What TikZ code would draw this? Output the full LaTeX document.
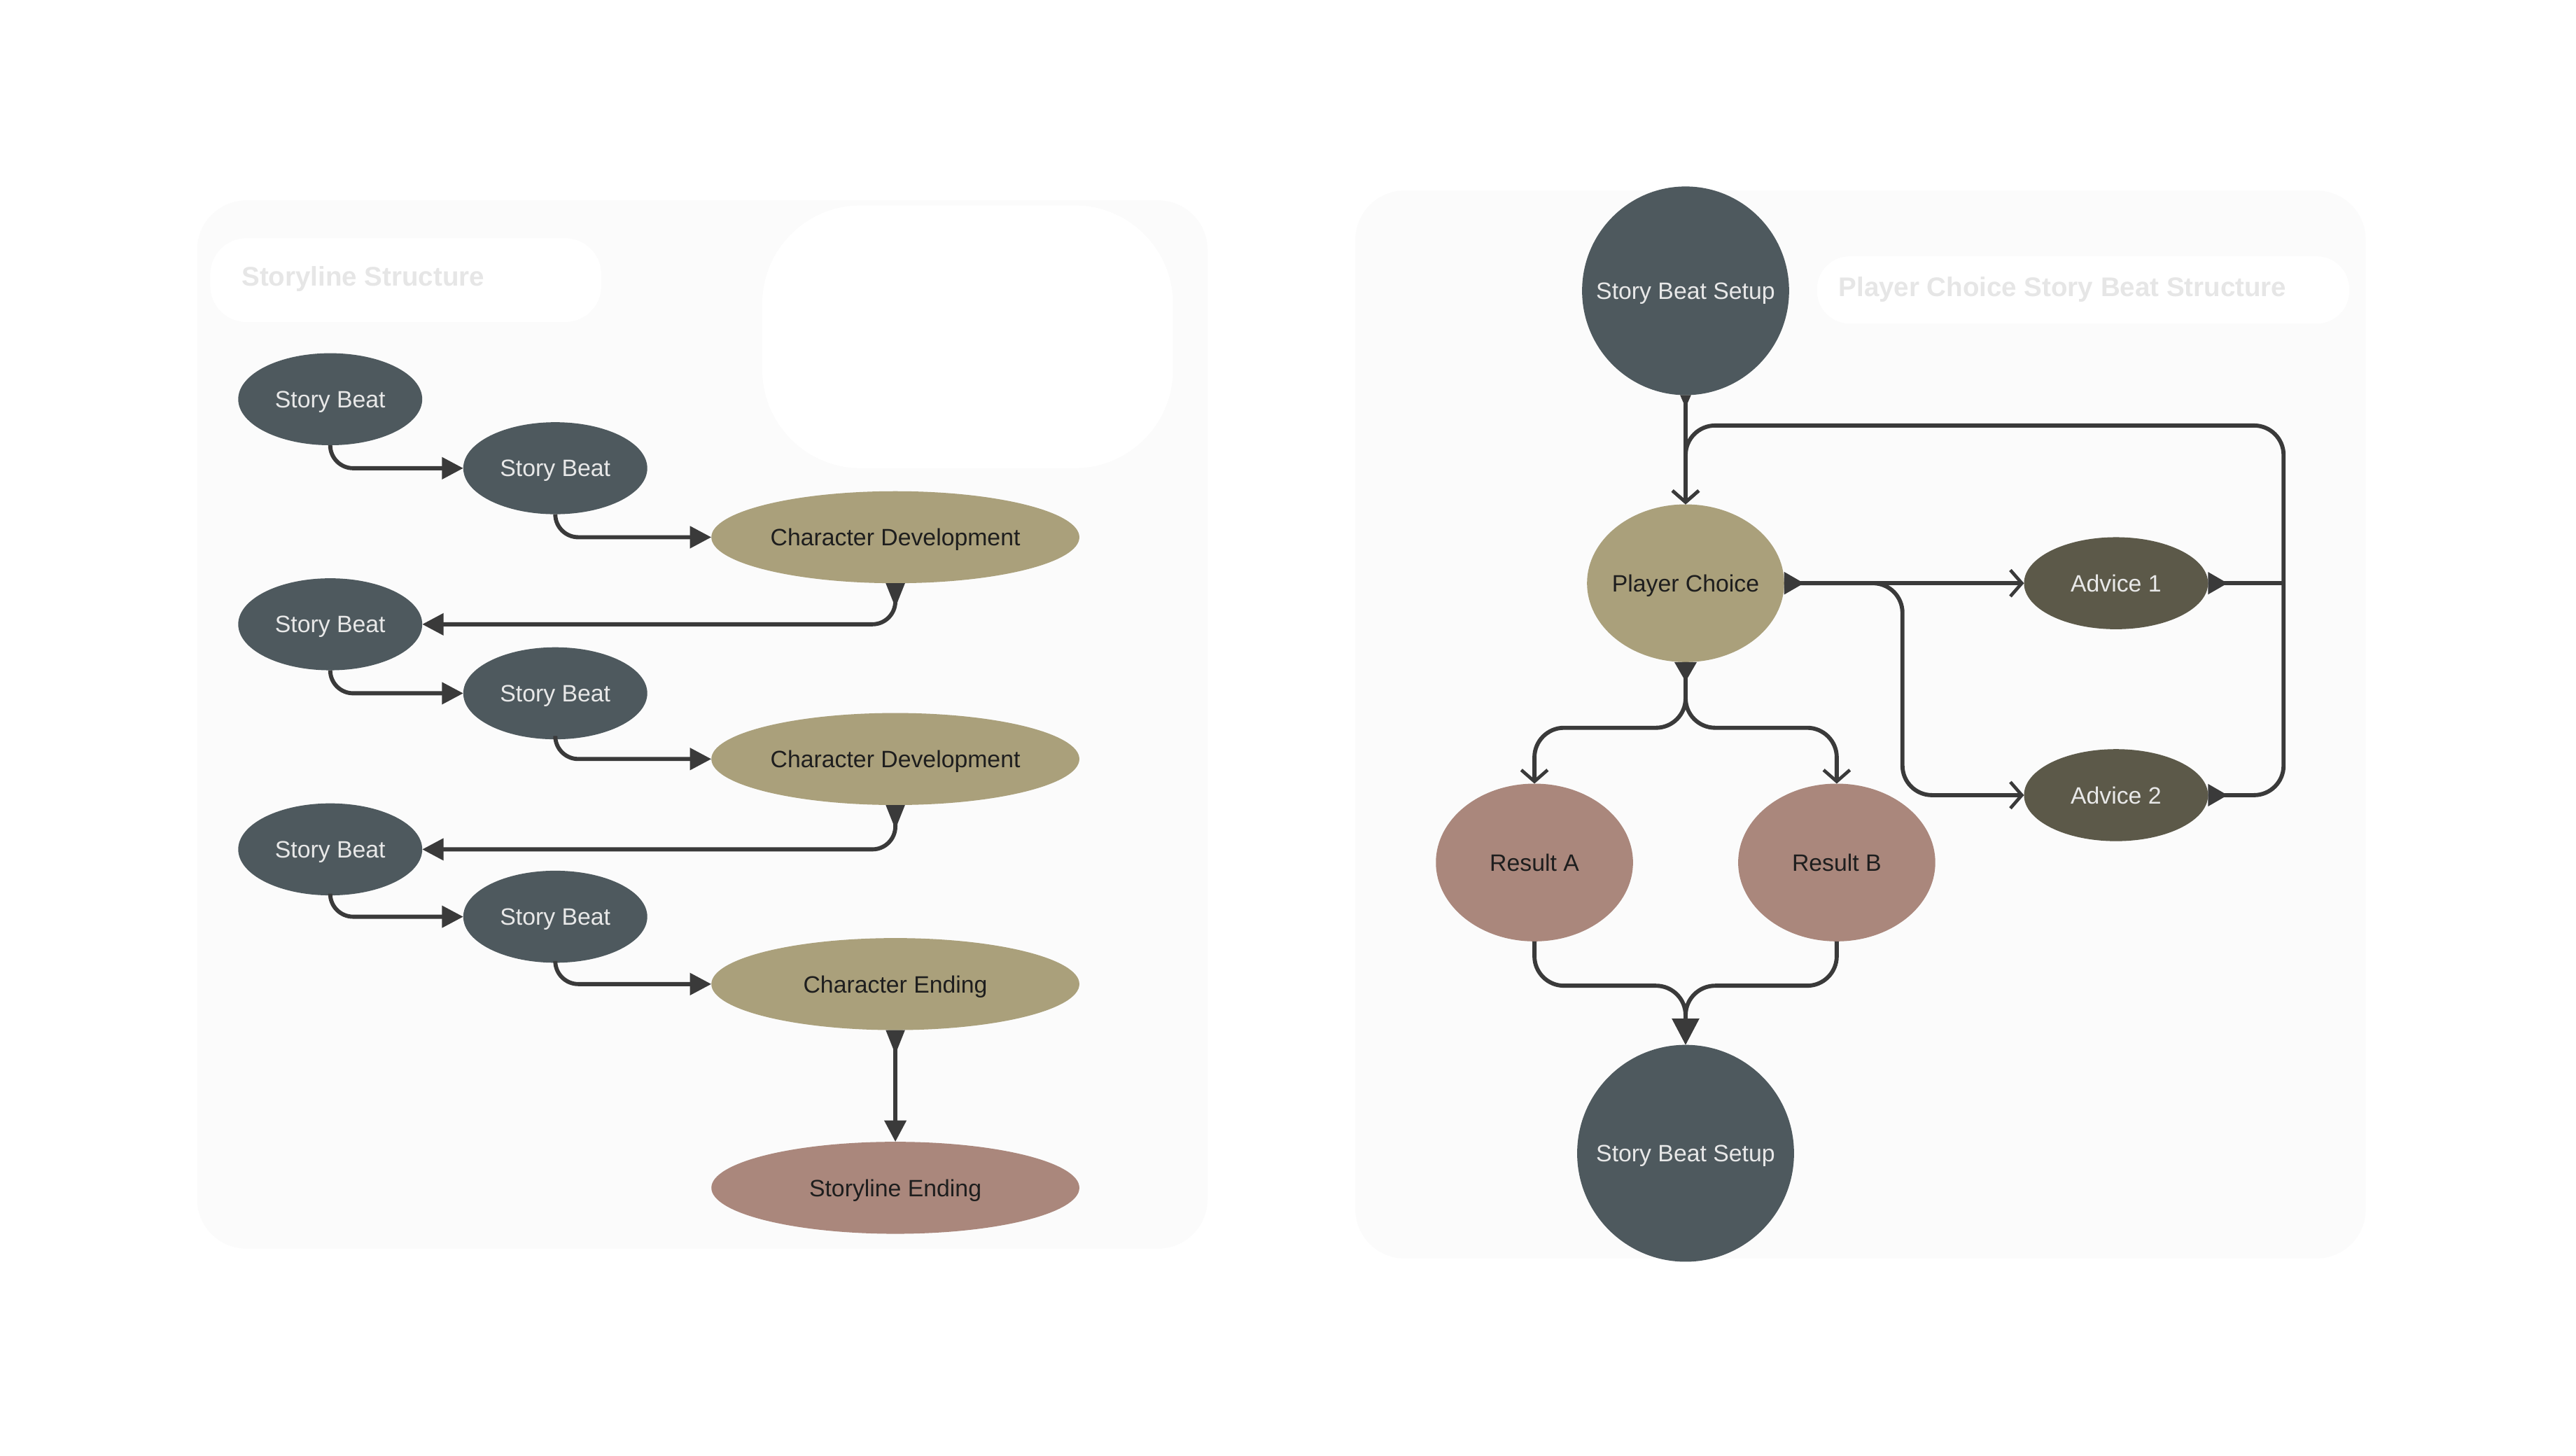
\documentclass[tikz,border=0pt]{standalone}
\usepackage{fontspec}
\setmainfont{Liberation Sans}
\usetikzlibrary{arrows.meta,shapes.geometric}
\definecolor{slate}{HTML}{4E595E}
\definecolor{khaki}{HTML}{AAA07B}
\definecolor{rose}{HTML}{AA877C}
\definecolor{olive}{HTML}{5C5949}
\definecolor{linec}{HTML}{3A3A3A}
\definecolor{panel}{HTML}{FBFBFB}
\definecolor{titlec}{HTML}{E6E6E6}
\definecolor{lighttxt}{HTML}{E8E8E8}
\definecolor{darktxt}{HTML}{1E1E1E}
\newcommand\nodefont{\fontsize{14.4}{17}\selectfont}
\newcommand\titlefont{\fontsize{16.4}{19}\selectfont\bfseries}
\newcommand\nolen[1]{\makebox[0pt][c]{#1}}
\tikzset{
  basenode/.style={ellipse, inner sep=0pt, outer sep=0pt, font=\nodefont, text depth=0pt},
  beatnode/.style={basenode, fill=slate, text=lighttxt, minimum width=112pt, minimum height=56pt},
  devnode/.style={basenode, fill=khaki, text=darktxt, minimum width=224pt, minimum height=56pt},
  endnode/.style={basenode, fill=rose, text=darktxt, minimum width=224pt, minimum height=56pt},
  setupnode/.style={basenode, fill=slate, text=lighttxt, minimum width=126pt, minimum height=127pt},
  choicenode/.style={basenode, fill=khaki, text=darktxt, minimum width=120pt, minimum height=96pt},
  resnode/.style={basenode, fill=rose, text=darktxt, minimum width=120pt, minimum height=96pt},
  advnode/.style={basenode, fill=olive, text=lighttxt, minimum width=112pt, minimum height=56pt},
  conn/.style={draw=linec, line width=2.5pt, rounded corners=14pt},
  fulltip/.style={-{Triangle[length=13pt,width=13pt]}},
  srcfull/.style={{Triangle[reversed,length=15pt,width=11pt]}-{Triangle[length=13pt,width=13pt]}},
  srcopen/.style={{Triangle[reversed,length=12pt,width=13pt]}-{Straight Barb[length=7pt,width=16pt,line width=2pt]}},
  openonly/.style={-{Straight Barb[length=7pt,width=16pt,line width=2pt]}},
  srconly/.style={{Triangle[reversed,length=12pt,width=13pt]}-},
  titletext/.style={font=\titlefont, text=titlec, inner sep=0pt, anchor=west}
}
\begin{document}
\begin{tikzpicture}[x=1pt,y=-1pt]
\useasboundingbox (0,0) rectangle (1568,886);
\fill[white] (0,0) rectangle (1568,886);
% panels
\fill[panel, rounded corners=30pt] (120,122) rectangle (735,760);
\fill[panel, rounded corners=30pt] (825,116) rectangle (1440,766);
\fill[white, rounded corners=22pt] (128,145) rectangle (366,196);
\fill[white, rounded corners=60pt] (464,125) rectangle (714,285);
\fill[white, rounded corners=20pt] (1106,156) rectangle (1430,197);
% titles
\node[titletext] (t1) at (147,170) {Storyline Structure};
\node[titletext] (t2) at (1119,176) {Player Choice Story Beat Structure};
% left nodes
\node[beatnode] (sb1) at (201,243) {\nolen{Story Beat}};
\node[beatnode] (sb2) at (338,285) {\nolen{Story Beat}};
\node[devnode] (cd1) at (545,327) {\nolen{Character Development}};
\node[beatnode] (sb3) at (201,380) {\nolen{Story Beat}};
\node[beatnode] (sb4) at (338,422) {\nolen{Story Beat}};
\node[devnode] (cd2) at (545,462) {\nolen{Character Development}};
\node[beatnode] (sb5) at (201,517) {\nolen{Story Beat}};
\node[beatnode] (sb6) at (338,558) {\nolen{Story Beat}};
\node[devnode] (ce) at (545,599) {\nolen{Character Ending}};
\node[endnode] (sle) at (545,723) {\nolen{Storyline Ending}};
% left connectors
\draw[conn, fulltip] (sb1.south) |- (sb2.west);
\draw[conn, fulltip] (sb2.south) |- (cd1.west);
\draw[conn, srcfull] (cd1.south) |- (sb3.east);
\draw[conn, fulltip] (sb3.south) |- (sb4.west);
\draw[conn, fulltip] (sb4.south) |- (cd2.west);
\draw[conn, srcfull] (cd2.south) |- (sb5.east);
\draw[conn, fulltip] (sb5.south) |- (sb6.west);
\draw[conn, fulltip] (sb6.south) |- (ce.west);
\draw[conn, srcfull] (ce.south) -- (sle.north);
% right nodes
\node[setupnode] (sbs1) at (1026,177) {\nolen{Story Beat Setup}};
\node[choicenode] (pc) at (1026,355) {\nolen{Player Choice}};
\node[advnode] (a1) at (1288,355) {\nolen{Advice 1}};
\node[advnode] (a2) at (1288,484) {\nolen{Advice 2}};
\node[resnode] (ra) at (934,525) {\nolen{Result A}};
\node[resnode] (rb) at (1118,525) {\nolen{Result B}};
\node[setupnode, minimum width=132pt, minimum height=132pt] (sbs2) at (1026,702) {\nolen{Story Beat Setup}};
% helper coordinates
\coordinate (vb) at (1158,420);
\coordinate (vr) at (1390,259);
\coordinate (jt) at (1026,443);
\coordinate (jb) at (1026,600);
% right connectors
\draw[conn, {Triangle[reversed,length=8pt,width=6pt]}-{Straight Barb[length=7pt,width=16pt,line width=2pt]}] (sbs1.south) -- (pc.north);
\draw[conn, srcopen] (pc.east) -- (a1.west);
\draw[conn, srcopen, rounded corners=18pt] (pc.east) -| (vb) |- (a2.west);
\draw[conn, srcopen, rounded corners=18pt] (a2.east) -| (vr) -| (pc.north);
\draw[conn, srconly] (a1.east) -- (a1.east -| vr);
\draw[conn, srcopen, rounded corners=18pt] (pc.south) |- (ra.north |- jt) -- (ra.north);
\draw[conn, openonly, rounded corners=18pt] (pc.south) |- (rb.north |- jt) -- (rb.north);
\draw[conn, -{Triangle[length=16pt,width=16pt]}, rounded corners=18pt] (ra.south) |- (sbs2.north |- jb) -- (sbs2.north);
\draw[conn, -{Triangle[length=16pt,width=16pt]}, rounded corners=18pt] (rb.south) |- (sbs2.north |- jb) -- (sbs2.north);
\end{tikzpicture}
\end{document}
